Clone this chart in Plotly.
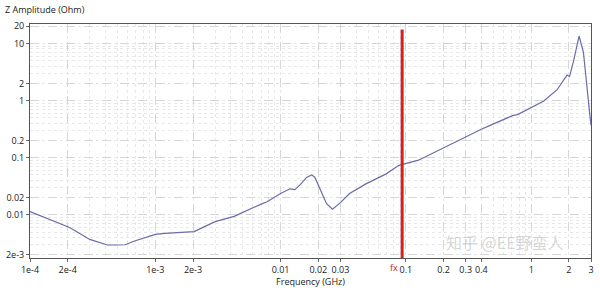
import plotly.graph_objects as go
import numpy as np

# ---- data ----
freq_ghz = [1.0e-4, 1.5e-4, 2.07e-4, 3.0e-4, 4.14e-4, 4.9e-4, 5.74e-4, 6.93e-4, 8.3e-4,
            1.0e-3, 1.19e-3, 1.5e-3, 2.04e-3, 3.0e-3, 4.26e-3, 6.92e-3, 7.8e-3,
            1.0e-2, 1.19e-2, 1.30e-2, 1.43e-2, 1.61e-2, 1.77e-2, 1.88e-2, 2.06e-2,
            2.32e-2, 2.59e-2, 2.96e-2, 3.55e-2, 4.8e-2, 6.9e-2, 8.8e-2, 0.126,
            0.2, 0.4, 0.451, 0.71, 0.778, 1.0, 1.26, 1.61, 1.93, 2.02, 2.17,
            2.41, 2.61, 2.94, 3.0]
z_ohm = [0.0114, 0.0079, 0.0060, 0.00372, 0.00297, 0.00297, 0.00300, 0.00352, 0.00402,
         0.00457, 0.00476, 0.00485, 0.00510, 0.00762, 0.0094, 0.0153, 0.0170,
         0.0236, 0.0286, 0.0277, 0.0335, 0.0452, 0.0502, 0.0452, 0.0286,
         0.0159, 0.01256, 0.0159, 0.0236, 0.0349, 0.0517, 0.0736, 0.0906,
         0.151, 0.315, 0.354, 0.546, 0.568, 0.757, 0.984, 1.55, 2.80, 2.63, 4.74,
         13.5, 7.0, 0.546, 0.37]

fx_ghz = 0.0933
fx_top = 17.5

x_tick_vals = [1e-4, 2e-4, 1e-3, 2e-3, 0.01, 0.02, 0.03, 0.1, 0.2, 0.3, 0.4, 1, 2, 3]
x_tick_text = ["1e-4", "2e-4", "1e-3", "2e-3", "0.01", "0.02", "0.03", "0.1", "0.2", "0.3", "0.4", "1", "2", "3"]
y_tick_vals = [20, 10, 2, 1, 0.2, 0.1, 0.02, 0.01, 2e-3]
y_tick_text = ["20", "10", "2", "1", "0.2", "0.1", "0.02", "0.01", "2e-3"]

x_range = [1e-4, 3.0]
y_range = [1.76e-3, 21.9]

# minor grid at every 1..9 multiple of each decade
x_minor = [m * 10.0 ** e for e in range(-4, 1) for m in range(1, 10) if m * 10.0 ** e <= 3.0]
y_minor = [m * 10.0 ** e for e in range(-3, 2) for m in range(1, 10) if y_range[0] <= m * 10.0 ** e <= y_range[1]]

font_family = "Open Sans, Noto Sans, DejaVu Sans, sans-serif"
major_grid = "#d6d6d6"
minor_grid = "#e8e8e8"

fig = go.Figure()
fig.add_trace(go.Scatter(
    x=freq_ghz, y=z_ohm, mode="lines",
    line=dict(color="#6b6baa", width=1.2),
    hoverinfo="x+y", showlegend=False,
))

fig.add_shape(type="line", xref="x", yref="y",
              x0=fx_ghz, x1=fx_ghz, y0=y_range[0], y1=fx_top,
              line=dict(color="#d42020", width=3))

fig.add_annotation(text="fx", x=np.log10(fx_ghz), xref="x", y=0, yref="paper",
                   yanchor="top", xanchor="right", xshift=-2, yshift=-1, showarrow=False,
                   font=dict(family=font_family, size=9, color="#c02020"))

fig.add_annotation(text="Z Amplitude (Ohm)", x=0, xref="paper", xanchor="left",
                   xshift=-27, y=1, yref="paper", yanchor="bottom", yshift=6,
                   showarrow=False, font=dict(family=font_family, size=9, color="#222"))

fig.add_annotation(text="知乎 @EE野蛮人", x=0.955, xref="paper", xanchor="right",
                   y=0, yref="paper", yanchor="bottom", yshift=2, showarrow=False,
                   font=dict(family="Noto Sans CJK SC", size=16, color="rgba(150,150,150,0.4)"))

axis_common = dict(
    type="log", showline=True, linecolor="#555", linewidth=1, mirror=True,
    showgrid=True, gridcolor=major_grid, griddash="dash", gridwidth=1,
    ticks="outside", ticklen=3, tickcolor="#666",
    tickfont=dict(family=font_family, size=9, color="#222"),
    zeroline=False,
)

fig.update_xaxes(
    **axis_common,
    range=[np.log10(x_range[0]), np.log10(x_range[1])],
    tickmode="array", tickvals=x_tick_vals, ticktext=x_tick_text,
    minor=dict(tickvals=x_minor, showgrid=True, gridcolor=minor_grid, griddash="dot", ticks=""),
    title=dict(text="Frequency (GHz)", font=dict(family=font_family, size=9, color="#222"), standoff=0),
)
fig.update_yaxes(
    **axis_common,
    range=[np.log10(y_range[0]), np.log10(y_range[1])],
    tickmode="array", tickvals=y_tick_vals, ticktext=y_tick_text,
    minor=dict(tickvals=y_minor, showgrid=True, gridcolor=minor_grid, griddash="dot", ticks=""),
)

fig.update_layout(
    width=600, height=288,
    margin=dict(l=27, r=6, t=24, b=24),
    paper_bgcolor="white", plot_bgcolor="white",
    font=dict(family=font_family, size=9),
)

fig.write_html("out.html")
